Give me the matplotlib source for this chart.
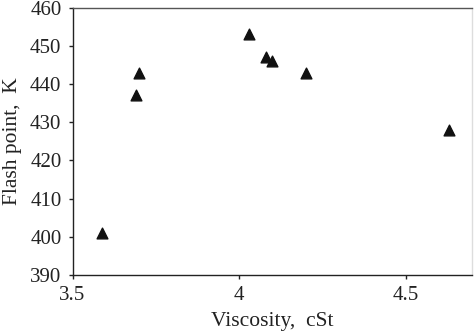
import matplotlib
matplotlib.use("Agg")
import matplotlib.pyplot as plt

viscosity = [3.59, 3.69, 3.70, 4.03, 4.08, 4.10, 4.20, 4.63]
flash_point = [401, 437, 443, 453, 447, 446, 443, 428]
xticks = [3.5, 4.0, 4.5]
xtick_labels = ["3.5", "4", "4.5"]
yticks = [390, 400, 410, 420, 430, 440, 450, 460]

plt.rcParams['font.family'] = ['Liberation Serif', 'DejaVu Serif']

fig = plt.figure(figsize=(4.74, 3.32), dpi=100)
ax = fig.add_axes([0.153, 0.172, 0.843, 0.805])
ax.scatter(viscosity, flash_point, marker='^', s=60, color='#111111', zorder=3, clip_on=False)
ax.set_xlim(3.5, 4.7)
ax.set_ylim(390, 460)
ax.set_xticks(xticks)
ax.set_xticklabels(xtick_labels)
ax.set_yticks(yticks)
ax.tick_params(direction='out', length=3, width=1, labelsize=15, pad=5, colors='#222222')
for s in ['left', 'bottom']:
    ax.spines[s].set_color('#222222')
    ax.spines[s].set_linewidth(1)
ax.spines['top'].set_color('#555555')
ax.spines['top'].set_linewidth(1)
ax.spines['right'].set_color('#dddddd')
ax.spines['right'].set_linewidth(1)
ax.set_xlabel("Viscosity,  cSt", fontsize=15.5, labelpad=5, color='#222222')
ax.set_ylabel("Flash point,  K", fontsize=15.5, labelpad=6, color='#222222')
fig.savefig("out.png", dpi=100)
